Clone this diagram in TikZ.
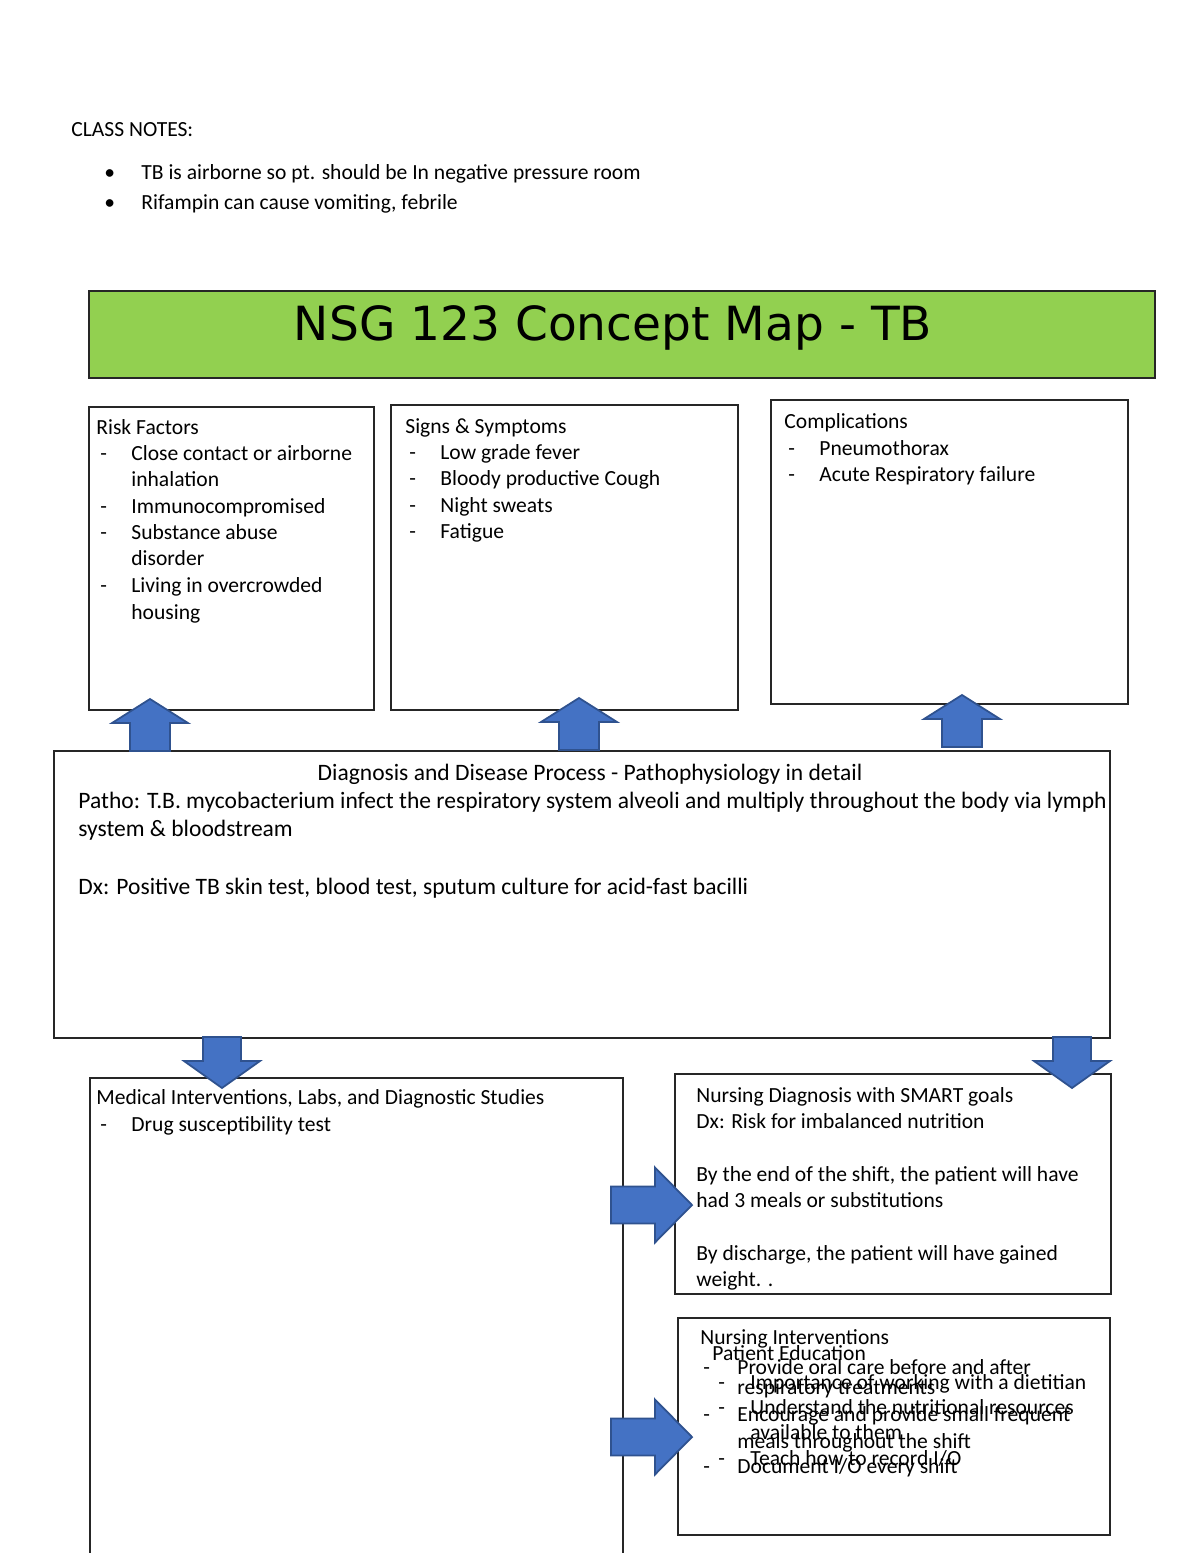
\documentclass[tikz,border=0pt]{standalone}
\usepackage{fontspec}
\setmainfont{Carlito}
\newfontfamily\titlefont{DejaVu Sans}
\definecolor{arrowblue}{HTML}{4472C4}
\definecolor{arrowedge}{HTML}{2F528F}
\definecolor{titlegreen}{HTML}{92D050}
\newcommand\pxbox[6][]{\node[box,#1, minimum width=#5*0.51pt, minimum height=#6*0.51pt] (#2) at (#3,#4) {};}
\newcommand\tl[4]{\node[txt] (#1) at (#2,#3) {#4};}
\newcommand\dl[6]{\node[txt] (#1d) at (#2,#4) {-}; \node[txt] (#1) at (#3,#4) {#5};}
\begin{document}
\begin{tikzpicture}[x=0.51pt,y=-0.51pt,
  box/.style={draw=black!85, line width=0.8pt, inner sep=0pt, anchor=north west},
  txt/.style={anchor=base west, inner sep=0pt, yshift=-1pt, font=\fontsize{11}{13}\selectfont},
  big/.style={anchor=base west, inner sep=0pt, yshift=-1pt, font=\fontsize{12}{14}\selectfont},
  blk/.style={fill=arrowblue, draw=arrowedge, line width=0.9pt, line join=miter},
  uparrow/.pic={\draw[blk] (0,0) -- (38,24) -- (20,24) -- (20,52) -- (-20,52) -- (-20,24) -- (-38,24) -- cycle;},
  downarrow/.pic={\draw[blk] (-19,0) -- (19,0) -- (19,24) -- (38,24) -- (0,51) -- (-38,24) -- (-19,24) -- cycle;},
  rightarrow/.pic={\draw[blk] (0,-18.5) -- (44,-18.5) -- (44,-37.5) -- (81,0) -- (44,37.5) -- (44,18.5) -- (0,18.5) -- cycle;}]
\useasboundingbox (0,0) rectangle (1200,1553);

% class notes
\tl{cn}{71}{135}{CLASS NOTES:}
\node[txt] (b1) at (104,178) {\textbullet};
\node[txt] (b2) at (104,208) {\textbullet};
\tl{cn1}{141}{178}{TB is airborne so pt. should be In negative pressure room}
\tl{cn2}{141}{208}{Rifampin can cause vomiting, febrile}

% title
\pxbox[fill=titlegreen]{title}{88}{290}{1066}{87}
\node[anchor=base, inner sep=0pt, font=\titlefont\fontsize{24}{28}\selectfont] (ttl) at (613,340) {NSG 123 Concept Map - TB};

% boxes
\pxbox{risk}{88}{406}{285}{303}
\pxbox{signs}{390}{404}{347}{305}
\pxbox{comp}{770}{399}{357}{304}
\pxbox{diag}{53}{750}{1056}{287}
\pxbox{med}{89}{1077}{533}{600}
\pxbox{nd}{674}{1073}{436}{220}
\pxbox{ni}{677}{1317}{432}{217}

% risk factors
\tl{rh}{96}{433}{Risk Factors}
\dl{r1}{100}{131}{459}{Close contact or airborne}{}
\tl{r1b}{131}{485}{inhalation}
\dl{r2}{100}{131}{512}{Immunocompromised}{}
\dl{r3}{100}{131}{538}{Substance abuse}{}
\tl{r3b}{131}{564}{disorder}
\dl{r4}{100}{131}{591}{Living in overcrowded}{}
\tl{r4b}{131}{618}{housing}

% signs
\tl{sh}{405}{432}{Signs \& Symptoms}
\dl{s1}{409}{440}{458}{Low grade fever}{}
\dl{s2}{409}{440}{484}{Bloody productive Cough}{}
\dl{s3}{409}{440}{511}{Night sweats}{}
\dl{s4}{409}{440}{537}{Fatigue}{}

% complications
\tl{ch}{784}{427}{Complications}
\dl{c1}{788}{819}{454}{Pneumothorax}{}
\dl{c2}{788}{819}{480}{Acute Respiratory failure}{}

% diagnosis
\node[big, anchor=base] (dh) at (590,779) {Diagnosis and Disease Process - Pathophysiology in detail};
\node[big] (d1) at (78,807) {Patho: T.B. mycobacterium infect the respiratory system alveoli and multiply throughout the body via lymph};
\node[big] (d2) at (78,835) {system \& bloodstream};
\node[big] (d3) at (78,893) {Dx: Positive TB skin test, blood test, sputum culture for acid-fast bacilli};

% medical
\tl{mh}{96}{1103}{Medical Interventions, Labs, and Diagnostic Studies}
\dl{m1}{100}{131}{1130}{Drug susceptibility test}{}

% nursing diagnosis
\tl{n1}{696}{1101}{Nursing Diagnosis with SMART goals}
\tl{n2}{696}{1127}{Dx: Risk for imbalanced nutrition}
\tl{n3}{696}{1180}{By the end of the shift, the patient will have}
\tl{n4}{696}{1206}{had 3 meals or substitutions}
\tl{n5}{696}{1259}{By discharge, the patient will have gained}
\tl{n6}{696}{1285}{weight. .}

% nursing interventions (overlapping layers as printed)
\tl{ih}{700}{1343}{Nursing Interventions}
\tl{pe}{712}{1359}{Patient Education}
\dl{a1}{703}{737}{1373}{Provide oral care before and after}{}
\dl{e1}{718}{750}{1388}{Importance of working with a dietitian}{}
\tl{a1b}{737}{1393}{respiratory treatments}
\dl{e2}{718}{750}{1413}{Understand the nutritional resources}{}
\dl{a2}{703}{737}{1420}{Encourage and provide small frequent}{}
\tl{e2b}{750}{1438}{available to them}
\tl{a2b}{737}{1447}{meals throughout the shift}
\dl{e3}{718}{750}{1464}{Teach how to record I/O}{}
\dl{a3}{703}{737}{1472}{Document I/O every shift}{}

% block arrows
\pic at (150,699) {uparrow};
\pic at (579,698) {uparrow};
\pic at (962,695) {uparrow};
\pic at (222,1037) {downarrow};
\pic at (1072,1037) {downarrow};
\pic at (611,1205) {rightarrow};
\pic at (611,1437) {rightarrow};
\end{tikzpicture}
\end{document}
